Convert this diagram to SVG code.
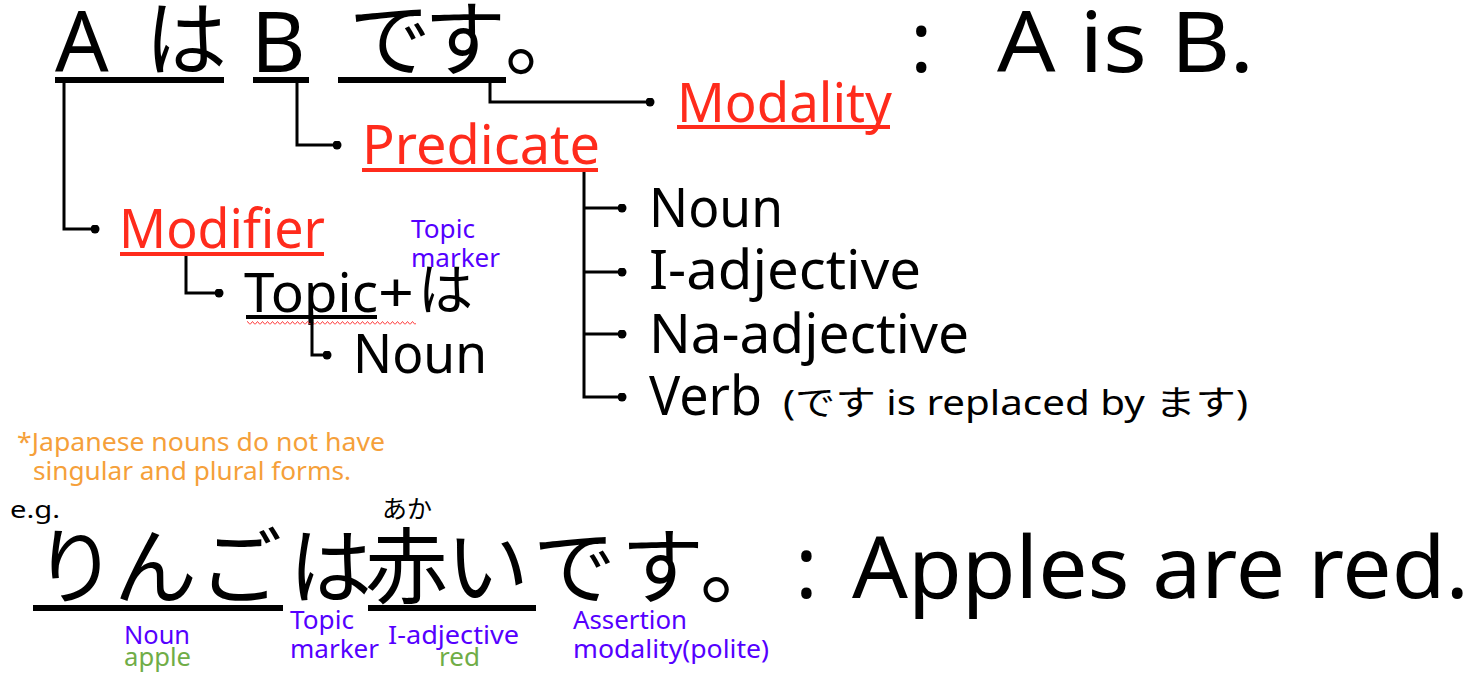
<svg xmlns="http://www.w3.org/2000/svg" width="1483" height="681" viewBox="0 0 1483 681">
<style>
text{font-family:"Noto Sans","Noto Sans CJK JP",sans-serif;fill:#000}
.jp{font-family:"Noto Sans CJK JP",sans-serif}
.big{font-size:84px}
.mid{font-size:55px}
.red{fill:#FF2B1C}
.blue{fill:#5500FF;font-size:25px}
.green{fill:#70AD47;font-size:25px}
.orange{fill:#F5A03A;font-size:25px}
.ul{fill:#000}
.rul{fill:#FF2B1C}
.conn{fill:none;stroke:#000;stroke-width:3;marker-end:url(#dot)}
</style>
<defs>
<marker id="dot" viewBox="0 0 10 10" refX="5" refY="5" markerWidth="3" markerHeight="3" markerUnits="strokeWidth">
<circle cx="5" cy="5" r="5" fill="#000"/>
</marker>
<pattern id="wave" x="0" y="321" width="5" height="4" patternUnits="userSpaceOnUse">
<polyline points="0,3.5 2.5,0.5 5,3.5" fill="none" stroke="#FF3B3B" stroke-width="1"/>
</pattern>
</defs>
<rect width="1483" height="681" fill="#fff"/>

<g id="sentence-top">
<text x="55" y="72" class="big">A</text>
<text class="jp" x="145" y="69" style="font-size:82px">は</text>
<text x="251" y="72" class="big">B</text>
<text class="jp" x="349 424 505" y="69" style="font-size:82px">です。</text>
<rect class="ul" x="55" y="77" width="169" height="6"/>
<rect class="ul" x="253" y="77" width="56" height="6"/>
<rect class="ul" x="338" y="77" width="168" height="6"/>
<text x="910" y="72" class="big">:</text>
<text x="997" y="72" class="big" textLength="257" lengthAdjust="spacingAndGlyphs">A is B.</text>
</g>

<g id="modality">
<text x="677" y="122" class="mid red" textLength="215" lengthAdjust="spacingAndGlyphs">Modality</text>
<rect class="rul" x="677" y="125" width="213" height="4"/>
</g>

<g id="predicate">
<text x="362" y="164" class="mid red" textLength="238" lengthAdjust="spacingAndGlyphs">Predicate</text>
<rect class="rul" x="362" y="168" width="236" height="4"/>
</g>

<g id="modifier">
<text x="119" y="248" class="mid red" textLength="206" lengthAdjust="spacingAndGlyphs">Modifier</text>
<rect class="rul" x="120" y="252" width="204" height="4"/>
</g>

<g id="topic">
<text x="244" y="312" class="mid" textLength="134" lengthAdjust="spacingAndGlyphs">Topic</text>
<text x="378" y="312" class="mid" textLength="36" lengthAdjust="spacingAndGlyphs">+</text>
<text x="418" y="309" class="jp mid">は</text>
<rect class="ul" x="246" y="315" width="131" height="4"/>
<rect x="247" y="321" width="169" height="4" fill="url(#wave)"/>
</g>

<g id="topic-marker-note">
<text x="411" y="238" class="blue" textLength="64" lengthAdjust="spacingAndGlyphs">Topic</text>
<text x="411" y="267" class="blue" textLength="89" lengthAdjust="spacingAndGlyphs">marker</text>
</g>

<g id="topic-noun">
<text x="353" y="373" class="mid" textLength="134" lengthAdjust="spacingAndGlyphs">Noun</text>
</g>

<g id="pred-noun"><text x="649" y="227" class="mid" textLength="134" lengthAdjust="spacingAndGlyphs">Noun</text></g>
<g id="pred-iadj"><text x="649" y="289" class="mid" textLength="272" lengthAdjust="spacingAndGlyphs">I-adjective</text></g>
<g id="pred-naadj"><text x="649" y="353" class="mid" textLength="320" lengthAdjust="spacingAndGlyphs">Na-adjective</text></g>
<g id="pred-verb">
<text x="649" y="415" class="mid" textLength="113" lengthAdjust="spacingAndGlyphs">Verb</text>
<text x="783" y="415" font-size="34" textLength="465" lengthAdjust="spacingAndGlyphs">(です is replaced by ます)</text>
</g>

<g id="connectors">
<path class="conn" d="M64 83 V229 H95"/>
<path class="conn" d="M297 83 V145 H337"/>
<path class="conn" d="M490 83 V102 H650"/>
<path class="conn" d="M584 172 V397 H622"/>
<path class="conn" d="M584 208 H622"/>
<path class="conn" d="M584 272 H622"/>
<path class="conn" d="M584 334 H622"/>
<path class="conn" d="M186 256 V293 H219"/>
<path class="conn" d="M312 319 V355 H327"/>
</g>

<g id="note">
<text x="17" y="451" class="orange" textLength="368" lengthAdjust="spacingAndGlyphs">*Japanese nouns do not have</text>
<text x="33" y="480" class="orange" textLength="318" lengthAdjust="spacingAndGlyphs">singular and plural forms.</text>
</g>

<g id="example">
<text x="10" y="518" font-size="24" textLength="50" lengthAdjust="spacingAndGlyphs">e.g.</text>
<text x="382" y="518" class="jp" font-size="25">あか</text>
<text class="jp" x="34 114 199 289 365 446 533 621 700" y="597" font-size="83">りんごは赤いです。</text>
<rect class="ul" x="33" y="605" width="250" height="6"/>
<rect class="ul" x="368" y="605" width="168" height="6"/>
<text x="795" y="598" font-size="85">:</text>
<text x="852" y="598" font-size="85" textLength="617" lengthAdjust="spacingAndGlyphs">Apples are red.</text>
</g>

<g id="example-labels">
<text x="124" y="644" class="blue" textLength="66" lengthAdjust="spacingAndGlyphs">Noun</text>
<text x="124" y="666" class="green" textLength="67" lengthAdjust="spacingAndGlyphs">apple</text>
<text x="290" y="629" class="blue" textLength="64" lengthAdjust="spacingAndGlyphs">Topic</text>
<text x="290" y="658" class="blue" textLength="89" lengthAdjust="spacingAndGlyphs">marker</text>
<text x="388" y="644" class="blue" textLength="131" lengthAdjust="spacingAndGlyphs">I-adjective</text>
<text x="439" y="666" class="green" textLength="41" lengthAdjust="spacingAndGlyphs">red</text>
<text x="573" y="629" class="blue" textLength="114" lengthAdjust="spacingAndGlyphs">Assertion</text>
<text x="573" y="658" class="blue" textLength="196" lengthAdjust="spacingAndGlyphs">modality(polite)</text>
</g>
</svg>
